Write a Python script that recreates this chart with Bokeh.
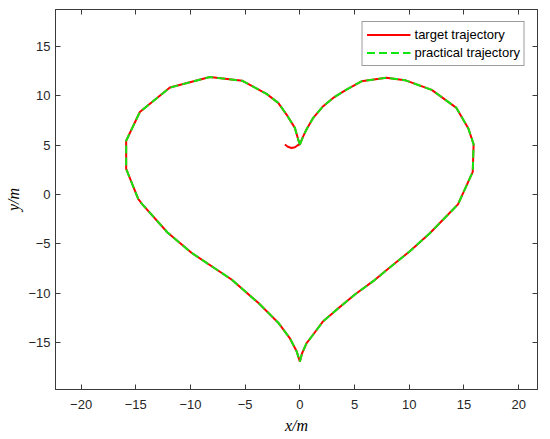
from bokeh.plotting import figure
from bokeh.models import Range1d, LinearAxis, FixedTicker, CustomJSTickFormatter, Legend, LegendItem
from bokeh.embed import file_html
from bokeh.resources import INLINE

# target trajectory
target_x = [-1.37, -1.1, -0.77, -0.45, -0.2, 0.0,
            0.3, 0.6, 1.22, 2.13, 3.04, 4.26, 5.63, 7.9, 9.6, 12.05, 14.31, 15.4, 15.88, 15.8,
            14.45, 13.1, 11.9, 10.05, 8.07, 6.7, 5.03, 3.2, 2.13, 1.22, 0.6, 0.2, 0.0,
            -0.3, -0.91, -1.98, -3.81, -6.25, -9.91, -12.1, -14.4, -14.78, -15.88, -15.88,
            -14.63, -11.88, -8.23, -5.25, -3.05, -1.98, -1.22, -0.46, -0.16, 0.0]
target_y = [5.07, 4.85, 4.72, 4.8, 5.0, 5.1,
            5.9, 6.6, 7.78, 8.96, 9.8, 10.65, 11.49, 11.85, 11.6, 10.62, 8.79, 6.7, 5.1, 2.3,
            -1.0, -2.54, -3.9, -5.75, -7.54, -8.79, -10.14, -11.83, -12.85, -14.2, -15.1, -16.1, -16.95,
            -15.9, -14.6, -13.0, -10.98, -8.62, -5.91, -3.85, -1.0, -0.45, 2.6, 5.45,
            8.37, 10.85, 11.92, 11.53, 10.21, 9.3, 8.11, 6.76, 5.6, 5.07]

# practical trajectory
practical_x = [0.0, 0.3, 0.6, 1.22, 2.13, 3.04, 4.26, 5.63, 7.9, 9.6, 12.05, 14.31, 15.4, 15.88, 15.8,
               14.45, 13.1, 11.9, 10.05, 8.07, 6.7, 5.03, 3.2, 2.13, 1.22, 0.6, 0.2, 0.0,
               -0.3, -0.91, -1.98, -3.81, -6.25, -9.91, -12.1, -14.4, -14.78, -15.88, -15.88,
               -14.63, -11.88, -8.23, -5.25, -3.05, -1.98, -1.22, -0.46, -0.16, 0.0]
practical_y = [5.07, 5.9, 6.6, 7.78, 8.96, 9.8, 10.65, 11.49, 11.85, 11.6, 10.62, 8.79, 6.7, 5.1, 2.3,
               -1.0, -2.54, -3.9, -5.75, -7.54, -8.79, -10.14, -11.83, -12.85, -14.2, -15.1, -16.1, -16.95,
               -15.9, -14.6, -13.0, -10.98, -8.62, -5.91, -3.85, -1.0, -0.45, 2.6, 5.45,
               8.37, 10.85, 11.92, 11.53, 10.21, 9.3, 8.11, 6.76, 5.6, 5.07]

x_ticks = [-20, -15, -10, -5, 0, 5, 10, 15, 20]
y_ticks = [-15, -10, -5, 0, 5, 10, 15]

AX = "#3a3a3a"
FONT = "Liberation Sans"

p = figure(frame_width=482, frame_height=380, output_backend="svg", toolbar_location=None,
           x_range=Range1d(-22.34, 21.72), y_range=Range1d(-19.78, 18.77),
           min_border_left=55, min_border_right=3, min_border_top=9, min_border_bottom=41,
           x_axis_label="x/m", y_axis_label="y/m")
p.grid.visible = False
p.outline_line_color = AX
p.background_fill_color = "white"
p.border_fill_color = "white"

for ax, ticks in ((p.xaxis[0], x_ticks), (p.yaxis[0], y_ticks)):
    ax.ticker = FixedTicker(ticks=ticks)
    ax.minor_tick_line_color = None
    ax.major_tick_in = 5
    ax.major_tick_out = 0
    ax.axis_line_color = AX
    ax.major_tick_line_color = AX
    ax.major_label_text_color = "#262626"
    ax.major_label_text_font = FONT
    ax.major_label_text_font_size = "13px"
    ax.axis_label_text_font = "Liberation Serif"
    ax.axis_label_text_font_style = "italic"
    ax.axis_label_text_font_size = "16px"
    ax.axis_label_text_color = "#000000"

p.xaxis[0].major_label_standoff = 10
p.xaxis[0].axis_label_standoff = 5
p.yaxis[0].major_label_standoff = 5
p.yaxis[0].axis_label_standoff = 3

blank = CustomJSTickFormatter(code="return ''")
top = LinearAxis(ticker=FixedTicker(ticks=x_ticks), formatter=blank)
right = LinearAxis(ticker=FixedTicker(ticks=y_ticks), formatter=blank)
for ax in (top, right):
    ax.minor_tick_line_color = None
    ax.major_tick_in = 5
    ax.major_tick_out = 0
    ax.axis_line_color = AX
    ax.major_tick_line_color = AX
    ax.major_label_text_font_size = "1px"
    ax.major_label_standoff = 0
p.add_layout(top, "above")
p.add_layout(right, "right")

r1 = p.line(target_x, target_y, line_color="#ff0000", line_width=2)
r2 = p.line(practical_x, practical_y, line_color="#11e611", line_width=2, line_dash="8 4")

legend = Legend(items=[LegendItem(label="target trajectory", renderers=[r1]),
                       LegendItem(label="practical trajectory", renderers=[r2])],
                location="top_right")
legend.margin = 12
legend.padding = 4
legend.spacing = 1
legend.glyph_width = 44
legend.glyph_height = 17
legend.label_height = 17
legend.label_standoff = 4
legend.label_text_font = FONT
legend.label_text_font_size = "13px"
legend.label_text_color = "#000000"
legend.border_line_color = AX
legend.border_line_width = 1
legend.background_fill_alpha = 1
p.add_layout(legend, "center")

open("out.html", "w").write(file_html(p, INLINE))
